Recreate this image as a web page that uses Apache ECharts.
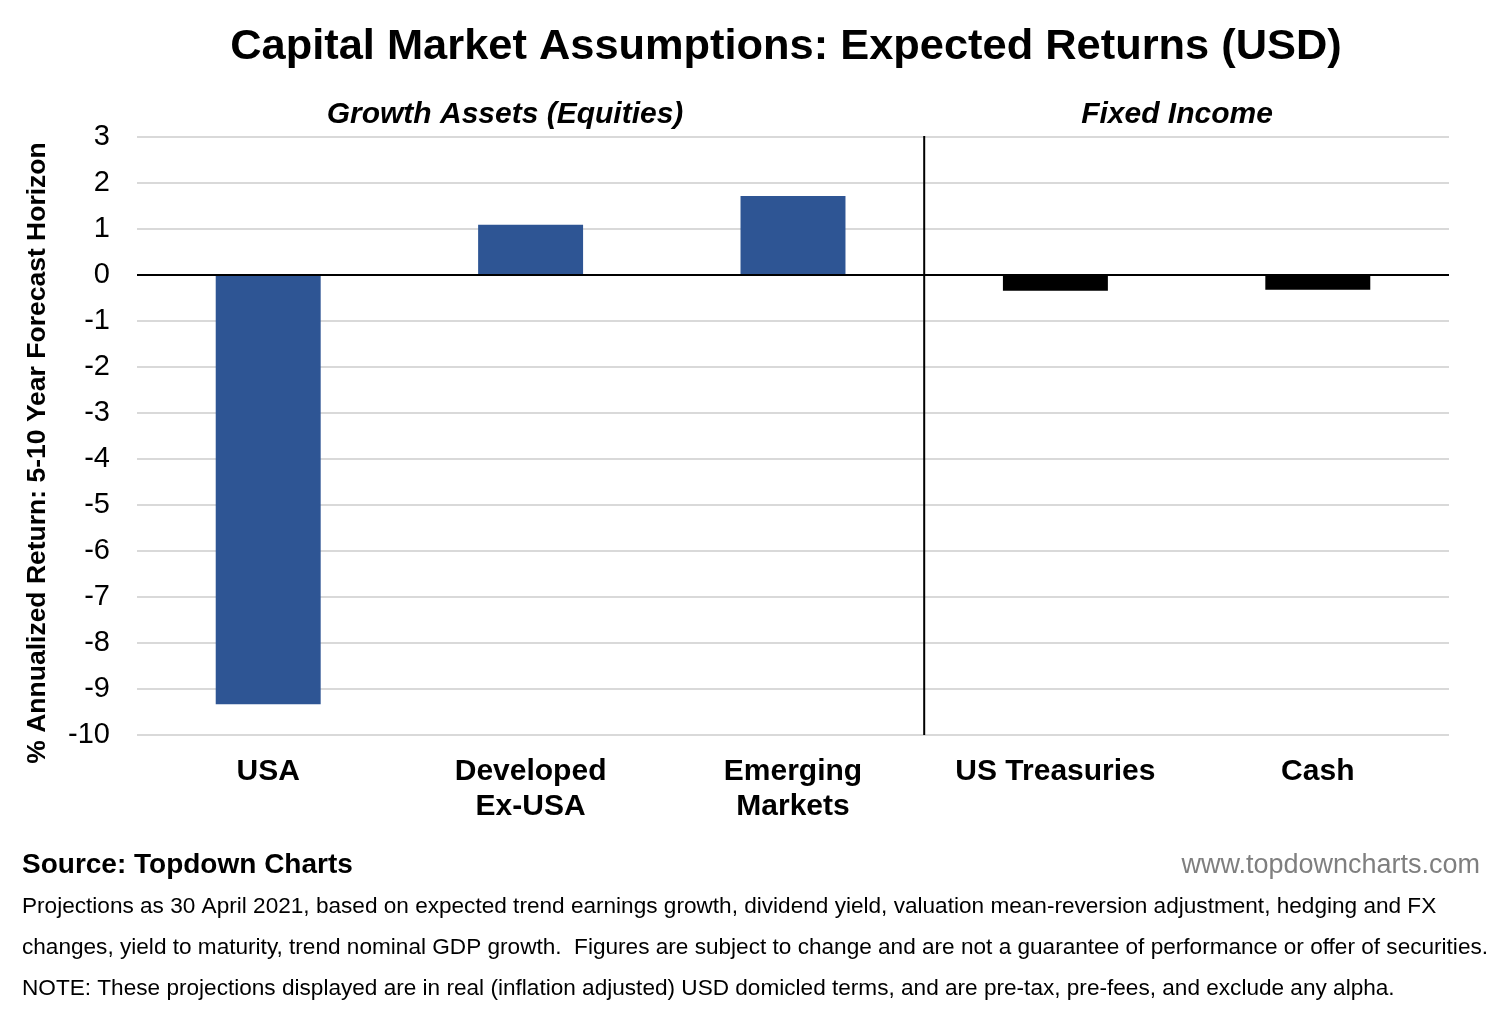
<!DOCTYPE html>
<html>
<head>
<meta charset="utf-8">
<script src="https://cdn.jsdelivr.net/npm/echarts@6/dist/echarts.min.js"></script>
<style>
html,body{margin:0;padding:0;background:#fff;}
#c{width:1504px;height:1015px;}
</style>
</head>
<body>
<div id="c"></div>
<script>
const categories = ['USA', 'Developed\nEx-USA', 'Emerging\nMarkets', 'US Treasuries', 'Cash'];
const returns = [-9.33, 1.09, 1.72, -0.34, -0.32];
const barColors = ['#2E5594', '#2E5594', '#2E5594', '#000000', '#000000'];
const yTicks = { min: -10, max: 3, interval: 1 };
const dividerX = 3; // boundary between equities and fixed income
const groupLabels = ['Growth Assets (Equities)', 'Fixed Income'];
const yAxisTitle = '% Annualized Return: 5-10 Year Forecast Horizon';

const FONT = 'Liberation Sans, Arial, sans-serif';
const chart = echarts.init(document.getElementById('c'));
chart.setOption({
  animation: false,
  textStyle: { fontFamily: FONT },
  title: [
    { text: 'Capital Market Assumptions: Expected Returns (USD)', left: 781, top: 21, textAlign: 'center',
      textStyle: { fontSize: 43.4, fontWeight: 'bold', color: '#000', fontFamily: FONT } },
    { text: groupLabels[0], left: 500, top: 95, textAlign: 'center',
      textStyle: { fontSize: 30, fontWeight: 'bold', fontStyle: 'italic', color: '#000', fontFamily: FONT } },
    { text: groupLabels[1], left: 1172, top: 95, textAlign: 'center',
      textStyle: { fontSize: 30, fontWeight: 'bold', fontStyle: 'italic', color: '#000', fontFamily: FONT } },
    { text: 'Source: Topdown Charts', left: 17, top: 846,
      textStyle: { fontSize: 28, fontWeight: 'bold', color: '#000', fontFamily: FONT } },
    { text: 'www.topdowncharts.com', right: 19, top: 847,
      textStyle: { fontSize: 27, fontWeight: 'normal', color: '#7f7f7f', fontFamily: FONT } },
    { text: 'Projections as 30 April 2021, based on expected trend earnings growth, dividend yield, valuation mean-reversion adjustment, hedging and FX\nchanges, yield to maturity, trend nominal GDP growth.  Figures are subject to change and are not a guarantee of performance or offer of securities.\nNOTE: These projections displayed are in real (inflation adjusted) USD domicled terms, and are pre-tax, pre-fees, and exclude any alpha.',
      left: 17, top: 881,
      textStyle: { fontSize: 22.6, fontWeight: 'normal', color: '#000', lineHeight: 41, fontFamily: FONT } }
  ],
  graphic: [
    { type: 'text', x: 38, y: 453, rotation: Math.PI / 2, silent: true,
      style: { text: yAxisTitle, fill: '#000', font: 'bold 26.5px ' + FONT, textAlign: 'center', textVerticalAlign: 'middle' } }
  ],
  grid: { left: 137, right: 55, top: 137, bottom: 280, containLabel: false },
  xAxis: [
    { type: 'category', data: categories, position: 'bottom',
      axisLine: { show: false }, axisTick: { show: false },
      axisLabel: { interval: 0, fontSize: 30, fontWeight: 'bold', color: '#000', margin: 19, lineHeight: 35, fontFamily: FONT } },
    { type: 'value', min: 0, max: 5, show: false }
  ],
  yAxis: {
    type: 'value', min: yTicks.min, max: yTicks.max, interval: yTicks.interval,
    axisLine: { show: false }, axisTick: { show: false },
    axisLabel: { fontSize: 29, color: '#000', margin: 27, fontFamily: FONT },
    splitLine: { lineStyle: { color: '#d9d9d9', width: 2 } }
  },
  series: [
    { type: 'bar', xAxisIndex: 0, data: returns.map((v, i) => ({ value: v, itemStyle: { color: barColors[i] } })),
      barWidth: '40%',
      markLine: { silent: true, symbol: 'none', label: { show: false },
        lineStyle: { color: '#000', width: 2, type: 'solid' }, data: [{ yAxis: 0 }] } },
    { type: 'line', xAxisIndex: 1, data: [[dividerX, yTicks.min], [dividerX, yTicks.max + 0.05]],
      symbol: 'none', lineStyle: { color: '#000', width: 2 }, silent: true }
  ]
});
</script>
</body>
</html>
